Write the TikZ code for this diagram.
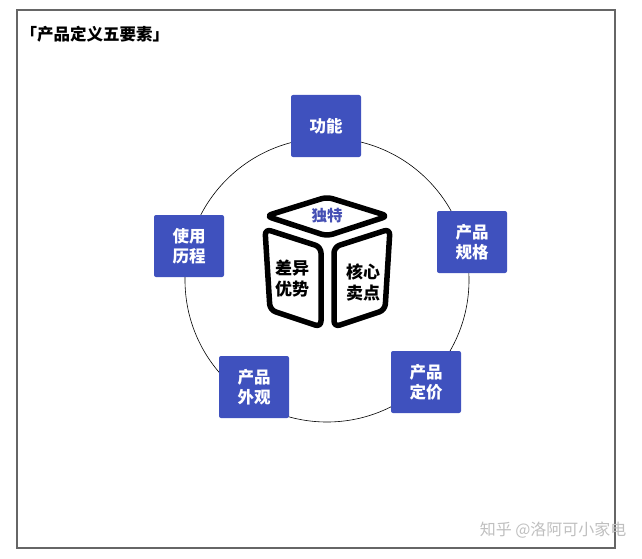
\documentclass[tikz,border=0pt]{standalone}
\usepackage{fontspec}
\newfontfamily\cjk{Noto Sans CJK SC}
\begin{document}
\begin{tikzpicture}[x=1pt,y=-1pt,
  bx/.style={fill={rgb,255:red,63;green,81;blue,190}, rounded corners=2pt, minimum width=70pt, minimum height=62pt, text=white, font=\cjk\bfseries\fontsize{16.5}{20}\selectfont, align=center},
  fc/.style={line width=5.5pt, rounded corners=6pt, line join=round, fill=white}]
\useasboundingbox (0,0) rectangle (642,559);
\draw[gray!80!black, line width=1.2pt] (17,10) rectangle (615,548);
\node[anchor=west, font=\cjk\bfseries\fontsize{16.5}{20}\selectfont] (title) at (17,34) {「产品定义五要素」};
\draw[line width=0.6pt] (327,280) circle (142);
\node[bx] (a) at (326,126) {功能};
\node[bx] (b) at (472,242) {产品\\规格};
\node[bx] (c) at (426,382) {产品\\定价};
\node[bx] (d) at (254,387) {产品\\外观};
\node[bx] (e) at (189,246) {使用\\历程};
\draw[fc] (266,216) -- (327,197) -- (388,216) -- (327,236) -- cycle;
\draw[fc] (265,229) -- (321,247) -- (321,327) -- (270,310) -- cycle;
\draw[fc] (334,247) -- (390,229) -- (385,310) -- (334,327) -- cycle;
\node[font=\cjk\bfseries\fontsize{15.5}{18}\selectfont, text={rgb,255:red,70;green,80;blue,180}] (u) at (327,216) {独特};
\node[font=\cjk\bfseries\fontsize{17}{21}\selectfont, align=center] (l) at (292,279) {差异\\优势};
\node[font=\cjk\bfseries\fontsize{17}{21}\selectfont, align=center] (r) at (363,282) {核心\\卖点};
\node[font=\cjk\fontsize{16}{18}\selectfont, text=gray!50, anchor=east] (w) at (630,530) {知乎 @洛阿可小家电};
\end{tikzpicture}
\end{document}
